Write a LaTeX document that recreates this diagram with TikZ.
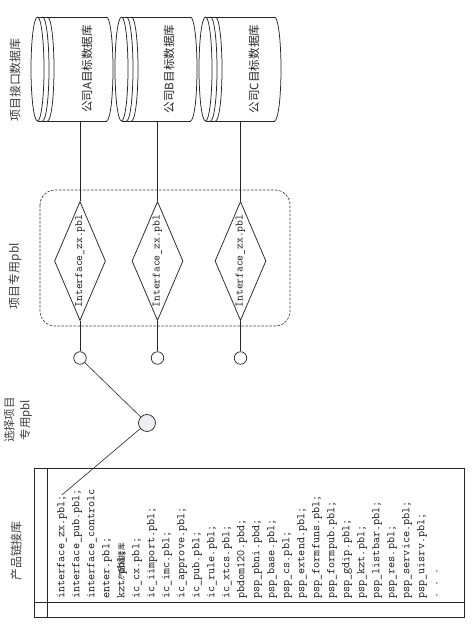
\documentclass[tikz,border=0pt]{standalone}
\usepackage{fontspec}
\newfontfamily\cjk{Noto Sans CJK SC}
\usetikzlibrary{shapes.geometric}
\tikzset{
  ln/.style={line width=0.75bp, draw=black!85},
  cjklabel/.style={rotate=90, font=\cjk\fontsize{12}{12}\selectfont, text=black!75, inner sep=0},
  dbtext/.style={rotate=90, font=\cjk\fontsize{11.6}{12}\selectfont, text=black!85, inner sep=0},
  dia/.style={draw=black!85, line width=0.75bp, diamond, minimum width=51bp, minimum height=119bp, inner sep=0, fill=white},
  diatext/.style={rotate=90, font=\ttfamily\fontsize{11.3}{11.3}\selectfont, text=black!90, inner sep=0},
  port/.style={circle, draw=black!85, line width=0.75bp, minimum size=12.5bp, inner sep=0, fill=white},
  selport/.style={circle, draw=black!85, line width=0.75bp, minimum size=17bp, inner sep=0, fill=blue!8!gray!12},
  listtext/.style={rotate=90, anchor=west, font=\ttfamily\fontsize{11.9}{11.9}\selectfont, text=black!90, inner sep=0},
}
\newcommand\mydbcyl[2]{% left x, right x
  \fill[white] (#1+6.5,-17) rectangle (#2-6.5,-121);
  \draw[ln] (#1+6.5,-17) -- (#2-6.5,-17);
  \draw[ln] (#1+6.5,-121) -- (#2-6.5,-121);
  \draw[ln] (#1+6.5,-69) ellipse [x radius=6.5, y radius=52];
  \draw[ln] (#1+11.5,-17) arc [start angle=90, end angle=-90, x radius=6.5, y radius=52];
  \draw[ln] (#1+16.5,-17) arc [start angle=90, end angle=-90, x radius=6.5, y radius=52];
  \draw[ln] (#2-6.5,-17) arc [start angle=90, end angle=-90, x radius=6.5, y radius=52];
}
\begin{document}
\begin{tikzpicture}[x=1bp, y=1bp]
\useasboundingbox[fill=white] (0,0) rectangle (474,-630);

% left labels
\node[cjklabel] (lab1) at (15,-80) {项目接口数据库};
\node[cjklabel] (lab2) at (15,-276) {项目专用pbl};
\node[cjklabel, align=center, font=\cjk\fontsize{11.5}{16}\selectfont] (lab3) at (18,-420) {选择项目\\专用pbl};
\node[cjklabel] (lab4) at (16,-551) {产品链接库};

% databases
\mydbcyl{31}{113}
\mydbcyl{115}{197}
\mydbcyl{199}{281}
\node[dbtext] (tA) at (87,-69) {公司A目标数据库};
\node[dbtext] (tB) at (169,-69) {公司B目标数据库};
\node[dbtext] (tC) at (254,-69) {公司C目标数据库};
\coordinate (cA) at (80,-121);
\coordinate (cB) at (157.5,-121);
\coordinate (cC) at (240.5,-121);

% dashed group
\draw[line width=0.7bp, draw=black!75, dash pattern=on 2.5bp off 1.5bp, rounded corners=15bp] (40,-190) rectangle (290,-326);

% diamonds
\node[dia] (dA) at (80,-261) {};
\node[dia] (dB) at (157.5,-261) {};
\node[dia] (dC) at (240.5,-261) {};
\node[diatext] (xA) at (dA) {Interface\_zx.pbl};
\node[diatext] (xB) at (dB) {Interface\_zx.pbl};
\node[diatext] (xC) at (dC) {Interface\_zx.pbl};

% ports
\node[port] (sA) at (80,-358) {};
\node[port] (sB) at (157.5,-358) {};
\node[port] (sC) at (240.5,-358) {};
\node[selport] (sel) at (147,-423) {};

\draw[ln] (cA) -- (dA.north);
\draw[ln] (cB) -- (dB.north);
\draw[ln] (cC) -- (dC.north);
\draw[ln] (dA.south) -- (sA.north);
\draw[ln] (dB.south) -- (sB.north);
\draw[ln] (dC.south) -- (sC.north);

% library box
\draw[ln] (34,-468) rectangle (464,-617);
\draw[ln] (47,-468) -- (47,-617);
\draw[ln] (34,-602) -- (464,-602);

\foreach \t [count=\i] in {interface\_zx.pbl;, interface\_pub.pbl;, interface\_controlc, enter.pbl;, kzt.pbl;, ic\_cx.pbl;, ic\_iimport.pbl;, ic\_imc.pbl;, ic\_approve.pbl;, ic\_pub.pbl;, ic\_rule.pbl;, ic\_xtcs.pbl;, pbdom120.pbd;, psp\_pbni.pbd;, psp\_base.pbl;, psp\_cs.pbl;, psp\_extend.pbl;, psp\_formfuns.pbl;, psp\_formpub.pbl;, psp\_gdip.pbl;, psp\_kzt.pbl;, psp\_listbar.pbl;, psp\_res.pbl;, psp\_service.pbl;, psp\_uisrv.pbl;}
  \node[listtext] (l\i) at ({62+15*(\i-1)},-599) {\t};
\node[listtext] (l26) at (437,-599) {.\hspace{0.5em}.\hspace{0.5em}.};

\node[rotate=90, font=\cjk\fontsize{7.5}{8}\selectfont, text=black!90, inner sep=0] (overlay) at (121.5,-562) {产品链接库};

\draw[line width=0.6bp, draw=black!85] (sA) -- (sel);
\draw[line width=0.6bp, draw=black!85] (sel) -- (l1.east);
\end{tikzpicture}
\end{document}
